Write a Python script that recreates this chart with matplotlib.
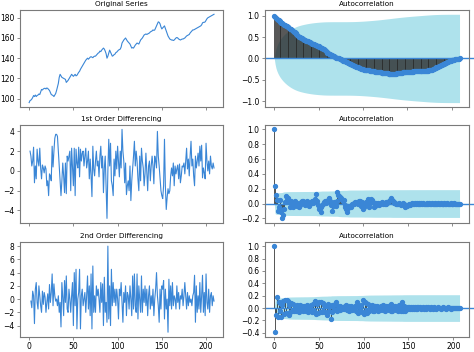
import numpy as np
import matplotlib
matplotlib.use("Agg")
import matplotlib.pyplot as plt

# original series, x = 0..209
orig = [
    96.0, 98.0, 98.5, 99.5, 101.0, 103.0, 102.0, 103.5, 102.0, 103.0,
    103.5, 104.5, 104.0, 106.5, 109.0, 108.5, 109.5, 110.0, 110.2, 109.5,
    110.5, 110.0, 109.0, 108.0, 106.0, 104.0, 103.5, 103.0, 102.0, 103.5,
    105.0, 108.0, 111.5, 115.0, 121.0, 124.0, 122.5, 121.0, 120.5, 120.0,
    119.5, 119.0, 116.0, 117.0, 118.0, 119.5, 121.0, 122.5, 124.0, 123.0,
    122.0, 123.0, 124.0, 122.5, 123.0, 124.5, 126.0, 127.0, 129.0, 130.5,
    132.0, 133.5, 135.0, 136.5, 138.0, 139.0, 140.0, 139.0, 140.0, 141.0,
    141.5, 141.0, 140.5, 141.5, 142.0, 142.0, 143.0, 144.0, 145.0, 145.5,
    147.0, 146.5, 148.0, 149.0, 150.0, 149.0, 147.0, 144.5, 140.0, 142.0,
    145.0, 148.0, 146.0, 144.0, 142.0, 142.5, 143.5, 144.0, 145.5, 146.0,
    147.0, 148.0, 148.5, 149.0, 151.0, 155.0, 156.5, 158.0, 159.0, 160.0,
    158.5, 157.0, 156.0, 155.0, 154.0, 152.0, 150.0, 150.5, 150.0, 151.5,
    153.0, 154.0, 155.0, 154.5, 154.0, 156.0, 158.0, 159.0, 160.0, 161.5,
    163.0, 163.5, 164.0, 163.5, 164.0, 164.5, 165.0, 166.0, 166.5, 167.0,
    168.0, 167.5, 168.0, 170.0, 172.0, 174.0, 176.0, 175.5, 174.0, 171.0,
    169.0, 170.0, 171.0, 172.0, 169.5, 167.0, 164.5, 162.0, 160.5, 159.0,
    158.5, 158.0, 158.0, 157.5, 158.0, 159.0, 160.0, 160.5, 160.0, 159.0,
    158.5, 158.0, 158.5, 159.0, 159.0, 159.5, 160.0, 161.0, 162.0, 162.5,
    163.0, 163.5, 165.0, 166.0, 167.0, 168.0, 168.0, 168.5, 169.0, 169.5,
    170.0, 170.5, 171.0, 171.5, 172.0, 173.0, 175.0, 175.5, 175.5, 176.0,
    177.5, 179.0, 180.0, 180.5, 181.0, 181.5, 182.0, 182.5, 183.0, 183.5,
]

# 1st order differencing, x = 1..209
diff1 = [
    2.0, 1.5, 0.5, 1.0, 2.4, -1.2, 0.5, -0.8, 2.2, 1.0,
    0.5, 2.3, 0.3, -0.8, 0.6, 0.3, -0.2, 0.5, 0.2, -1.5,
    -1.0, -2.5, -0.3, -0.5, -1.0, 2.5, 0.4, 2.0, 3.3, 3.7,
    3.7, 3.5, 2.0, 0.5, -1.0, -2.5, -1.0, 0.8, -0.5, -2.2,
    0.8, -2.3, 1.5, 1.0, 1.5, 2.0, -2.0, 2.3, 0.5, -1.5,
    2.3, -2.5, 2.2, 0.8, 0.3, 2.4, -0.6, 2.2, 1.0, 1.8,
    2.0, 0.5, 1.5, 2.3, 0.3, 1.0, 2.0, -0.8, 1.2, -0.5,
    -2.6, 2.5, 0.2, -0.5, 1.0, 2.0, 0.5, 1.0, -0.6, 1.5,
    2.5, 0.3, 1.5, -2.2, 0.3, 1.5, -1.5, -4.8, 0.0, 3.2,
    0.5, 2.8, -1.0, -1.5, -2.5, 1.2, -0.5, 2.0, 0.2, 2.5,
    1.0, -0.6, 2.0, 0.3, 4.2, 2.0, 1.0, -1.2, 0.8, -2.4,
    -1.5, -1.0, -2.0, 0.5, -3.0, -1.0, 0.2, 1.5, 3.0, 0.5,
    2.0, 1.0, -0.8, -2.0, 1.5, -1.0, 2.3, 1.0, 0.3, -1.5,
    -0.3, 1.8, 0.0, -2.0, 0.5, 1.0, -1.0, 0.5, 1.5, 0.5,
    -1.3, 1.5, 1.0, 0.3, 4.0, 1.5, 0.5, -0.8, -2.0, -2.5,
    -2.8, -1.5, 3.2, -1.5, -3.9, -2.7, -1.8, -2.3, -2.0, -0.5,
    0.3, -0.5, 0.8, -1.5, 0.5, -0.3, 0.2, 0.6, -0.8, 0.7,
    -1.2, -0.5, 0.5, 0.4, 0.8, -0.3, 1.0, 2.3, 0.2, 1.2,
    -0.5, 1.5, 3.0, 0.5, 1.2, -0.5, -1.5, 1.5, 0.3, 1.0,
    1.8, 0.5, 2.5, 1.0, 2.6, -0.7, 0.3, -0.2, -0.8, 2.8,
    1.0, 0.0, 1.0, -0.3, 1.5, 0.5, 0.2, 0.8, 0.3,
]

# 2nd order differencing, x = 2..209
diff2 = [
    -0.3, -1.3, 1.2, 0.5, -3.7, 1.5, 2.5, -0.5, -1.5, 2.0,
    0.5, -1.0, -2.0, 1.2, -0.8, 1.0, 0.3, -2.0, -0.5, 0.8,
    -1.5, 2.2, -0.5, 1.0, 3.8, -1.0, 2.3, 0.5, -0.3, 0.0,
    -1.0, 0.5, -2.0, -0.5, -4.2, 2.5, 0.3, -2.5, 2.8, -0.5,
    3.5, -1.5, -2.0, 1.5, 0.0, -2.0, 0.5, 2.5, -4.0, 4.0,
    -1.0, 4.5, -4.5, 0.0, 1.0, 4.5, -4.5, 0.5, 1.5, -1.0,
    0.0, 1.0, -2.0, 0.5, 3.5, -1.5, 2.0, -2.5, 3.8, -4.5,
    5.0, -2.0, 0.5, -2.0, 2.0, 0.5, 1.5, 0.0, -2.0, 2.5,
    -0.5, 2.3, -4.0, 3.3, -2.0, -0.5, -3.5, 8.0, -3.0, 2.0,
    -4.0, 4.5, -1.0, 2.5, -0.5, 1.5, -1.0, 1.5, 0.0, -3.0,
    1.5, 0.5, 2.5, -0.5, -3.5, 1.0, -0.5, 2.0, -2.5, 1.0,
    0.5, -1.5, 2.0, 0.0, -2.5, 3.5, -1.5, 3.8, -1.0, -2.0,
    3.8, -3.0, 2.0, 0.0, -2.0, 3.5, -2.0, 1.5, -0.5, 2.0,
    -1.0, 1.5, -2.5, 0.5, 2.0, -1.5, 0.5, -1.0, 1.5, -2.5,
    0.0, 1.5, 4.0, 0.5, -1.0, -3.5, 1.5, -1.5, 2.0, 1.5,
    2.8, -3.0, 1.5, -1.5, 0.0, -5.0, 3.0, -1.0, 2.0, -1.5,
    2.5, -1.0, 0.5, 0.0, -1.5, 2.0, -0.5, 1.0, -1.5, 0.5,
    0.0, 1.5, -1.0, 0.5, 2.5, 0.5, -1.5, 1.0, -1.0, 0.5,
    -0.5, 0.0, -1.0, 0.5, 1.0, 3.6, -3.5, 2.0, -2.0, 0.5,
    -1.5, 2.5, -2.0, 0.5, 3.6, -2.0, 1.0, -2.5, 3.8, -0.5,
    -1.5, 1.5, -2.0, 0.5, 1.0, -1.0, 0.5, -0.3,
]

# autocorrelation of the original series, lags 0..209
acf_orig = [
    1.00, 0.97, 0.95, 0.93, 0.91, 0.89, 0.87, 0.85, 0.84, 0.82,
    0.81, 0.79, 0.78, 0.77, 0.75, 0.74, 0.73, 0.71, 0.70, 0.68,
    0.67, 0.65, 0.63, 0.61, 0.59, 0.57, 0.55, 0.53, 0.51, 0.50,
    0.48, 0.47, 0.46, 0.45, 0.44, 0.43, 0.42, 0.41, 0.40, 0.39,
    0.38, 0.37, 0.36, 0.35, 0.34, 0.33, 0.32, 0.31, 0.30, 0.29,
    0.29, 0.27, 0.26, 0.25, 0.24, 0.22, 0.21, 0.19, 0.17, 0.15,
    0.13, 0.12, 0.11, 0.10, 0.08, 0.07, 0.06, 0.05, 0.04, 0.03,
    0.02, 0.01, 0.01, 0.00, -0.01, -0.02, -0.03, -0.04, -0.05, -0.06,
    -0.07, -0.08, -0.09, -0.10, -0.11, -0.12, -0.13, -0.14, -0.15, -0.16,
    -0.17, -0.18, -0.19, -0.20, -0.21, -0.21, -0.22, -0.23, -0.24, -0.25,
    -0.25, -0.26, -0.26, -0.27, -0.27, -0.28, -0.28, -0.28, -0.29, -0.29,
    -0.29, -0.30, -0.30, -0.30, -0.31, -0.31, -0.32, -0.32, -0.33, -0.33,
    -0.33, -0.34, -0.34, -0.34, -0.35, -0.35, -0.35, -0.35, -0.35, -0.36,
    -0.36, -0.36, -0.36, -0.36, -0.36, -0.36, -0.36, -0.36, -0.35, -0.35,
    -0.35, -0.35, -0.34, -0.34, -0.34, -0.33, -0.33, -0.33, -0.32, -0.32,
    -0.32, -0.32, -0.31, -0.31, -0.31, -0.31, -0.31, -0.30, -0.30, -0.30,
    -0.30, -0.30, -0.30, -0.30, -0.30, -0.30, -0.30, -0.30, -0.30, -0.30,
    -0.30, -0.29, -0.29, -0.29, -0.28, -0.28, -0.27, -0.27, -0.26, -0.25,
    -0.24, -0.23, -0.22, -0.21, -0.20, -0.19, -0.18, -0.17, -0.16, -0.15,
    -0.14, -0.13, -0.12, -0.11, -0.10, -0.09, -0.08, -0.07, -0.06, -0.05,
    -0.04, -0.04, -0.03, -0.03, -0.02, -0.02, -0.01, -0.01, -0.01, 0.00,
]

# autocorrelation of the 1st differences, lags 0..208
acf_d1 = [
    1.00, 0.24, 0.12, 0.05, -0.10, -0.05, 0.05, -0.08, -0.12, -0.20,
    -0.15, -0.08, 0.02, 0.10, 0.08, 0.04, 0.07, 0.02, -0.05, 0.03,
    0.01, -0.04, 0.02, 0.03, 0.00, -0.03, 0.01, -0.01, -0.05, -0.02,
    0.02, 0.04, 0.03, 0.01, 0.00, -0.02, 0.02, 0.03, 0.01, -0.03,
    0.00, 0.02, 0.03, 0.04, 0.01, 0.03, 0.06, 0.13, 0.03, -0.02,
    -0.08, -0.06, -0.12, -0.05, -0.02, 0.00, 0.02, 0.03, 0.01, 0.04,
    0.05, 0.08, 0.06, 0.03, -0.02, -0.10, -0.03, 0.02, -0.01, -0.03,
    0.04, 0.15, 0.12, 0.10, 0.09, 0.08, 0.05, 0.04, 0.05, -0.02,
    -0.05, -0.08, -0.12, -0.06, -0.05, -0.03, -0.04, -0.01, 0.00, 0.01,
    -0.01, 0.02, 0.01, 0.02, 0.00, 0.04, 0.03, -0.03, -0.02, 0.02,
    -0.07, -0.04, 0.01, 0.02, -0.01, 0.06, -0.04, 0.01, 0.03, 0.06,
    0.05, 0.02, -0.05, -0.03, 0.01, 0.00, -0.01, 0.01, -0.02, 0.00,
    0.01, 0.02, 0.00, 0.01, -0.01, 0.02, 0.00, 0.01, 0.02, 0.03,
    0.05, 0.08, 0.05, 0.03, 0.01, 0.02, 0.01, 0.00, -0.01, 0.00,
    0.01, -0.01, -0.02, -0.01, 0.00, 0.01, -0.01, -0.04, -0.02, -0.03,
    -0.02, -0.01, -0.02, -0.01, 0.00, 0.01, 0.00, -0.01, 0.01, 0.00,
    0.01, 0.00, 0.01, -0.01, 0.00, 0.01, 0.00, 0.01, 0.00, -0.01,
    0.00, 0.01, 0.00, 0.00, 0.01, -0.01, 0.00, 0.01, 0.00, 0.00,
    0.01, 0.00, -0.01, 0.00, 0.01, 0.00, 0.00, 0.01, 0.00, 0.00,
    0.00, 0.01, 0.00, 0.00, 0.01, 0.00, 0.00, 0.00, 0.01, 0.00,
    0.00, 0.00, 0.01, 0.00, 0.00, 0.00, 0.00, 0.00, 0.00,
]

# autocorrelation of the 2nd differences, lags 0..207
acf_d2 = [
    1.00, -0.39, -0.12, 0.18, -0.15, 0.10, -0.05, 0.08, -0.14, 0.05,
    0.12, -0.10, 0.13, -0.08, 0.13, 0.12, -0.12, 0.05, -0.06, 0.08,
    -0.04, 0.06, -0.05, 0.03, -0.04, 0.05, -0.03, 0.04, -0.06, 0.05,
    -0.02, 0.03, -0.05, 0.04, -0.03, 0.02, -0.04, 0.05, -0.06, 0.03,
    -0.02, 0.05, -0.07, 0.06, -0.04, 0.12, 0.10, -0.10, 0.06, -0.08,
    0.10, -0.07, 0.10, -0.06, 0.08, -0.04, 0.05, -0.06, 0.04, -0.12,
    0.07, -0.05, 0.03, -0.17, 0.05, -0.06, 0.04, -0.03, 0.06, 0.10,
    -0.05, 0.04, -0.02, 0.03, -0.03, 0.02, -0.01, 0.02, -0.02, 0.03,
    0.05, -0.03, 0.02, -0.04, 0.03, -0.02, 0.04, -0.03, 0.02, -0.02,
    0.03, -0.04, 0.05, 0.10, -0.08, 0.04, -0.03, 0.05, -0.06, 0.13,
    -0.10, 0.10, -0.05, 0.08, -0.08, 0.06, -0.05, 0.04, -0.03, 0.05,
    -0.04, 0.03, -0.05, 0.04, -0.02, 0.03, -0.05, 0.02, -0.03, 0.04,
    -0.02, 0.05, -0.03, 0.02, -0.04, 0.03, -0.02, 0.04, -0.03, 0.02,
    -0.05, 0.07, -0.04, 0.03, -0.02, 0.04, -0.03, 0.02, -0.04, 0.05,
    -0.02, 0.03, -0.05, 0.10, -0.05, 0.03, -0.04, 0.02, -0.02, 0.01,
    -0.02, 0.02, -0.01, 0.01, -0.02, 0.01, -0.01, 0.02, -0.01, 0.01,
    -0.01, 0.01, 0.00, 0.01, -0.01, 0.00, 0.01, -0.01, 0.00, 0.01,
    -0.01, 0.00, 0.01, 0.00, -0.01, 0.01, 0.00, -0.01, 0.00, 0.01,
    0.00, -0.01, 0.00, 0.01, 0.00, 0.00, -0.01, 0.00, 0.01, 0.00,
    0.00, 0.00, -0.01, 0.00, 0.01, 0.00, 0.00, 0.00, -0.01, 0.00,
    0.00, 0.00, 0.00, 0.00, 0.00, 0.00, 0.00, 0.00,
]

left_titles = ["Original Series", "1st Order Differencing", "2nd Order Differencing"]
line_col = "#3a86d6"
band_col = "#aee2ec"
spine_col = "#7a7a7a"
tick_fs = 5.5
title_fs = 5.2


def style(ax):
    for s in ax.spines.values():
        s.set_color(spine_col)
        s.set_linewidth(0.8)
    ax.tick_params(length=2.5, width=0.6, color=spine_col, labelsize=tick_fs, pad=1.5)


def plot_acf(ax, acf, n_obs):
    acf = np.asarray(acf)
    lags = np.arange(len(acf))
    # bartlett band, centred on zero
    var = np.ones(len(acf)) / n_obs
    var[0] = 0
    var[2:] *= 1 + 2 * np.cumsum(acf[1:-1] ** 2)
    band = 1.96 * np.sqrt(var)
    ax.vlines(lags, 0, acf, colors="#262626", linewidth=0.55)
    ax.axhline(0, xmin=0, xmax=1.03, color=line_col, linewidth=1.0, clip_on=False)
    ax.plot(lags, acf, "o", color=line_col, markersize=2.8)
    ax.fill_between(lags, -band, band, color=band_col, linewidth=0)
    ax.margins(0.05)
    ax.set_title("Autocorrelation", fontsize=title_fs, pad=2.5)


fig = plt.figure(figsize=(4.74, 3.52), dpi=100)
rows = [(0.696, 0.276), (0.367, 0.278), (0.044, 0.269)]
left_axes = [fig.add_axes([0.042, b, 0.429, h]) for b, h in rows]
right_axes = [fig.add_axes([0.559, b, 0.430, h]) for b, h in rows]

series = [orig, diff1, diff2]
starts = [0, 1, 2]
for ax, ys, s0, t in zip(left_axes, series, starts, left_titles):
    xs = np.arange(s0, s0 + len(ys))
    ax.plot(xs, ys, color=line_col, linewidth=0.8)
    ax.set_xlim(-10.45, 219.45)
    ax.set_title(t, fontsize=title_fs, pad=2.5)
    ax.set_xticks([0, 50, 100, 150, 200])
    style(ax)

left_axes[0].set_yticks([100, 120, 140, 160, 180])
left_axes[1].set_yticks([-4, -2, 0, 2, 4])
left_axes[2].set_yticks([-4, -2, 0, 2, 4, 6, 8])

acfs = [acf_orig, acf_d1, acf_d2]
for ax, a, ys in zip(right_axes, acfs, series):
    plot_acf(ax, a, len(ys))
    ax.set_xticks([0, 50, 100, 150, 200])
    style(ax)

right_axes[0].set_yticks([-1.0, -0.5, 0.0, 0.5, 1.0])
right_axes[1].set_yticks([-0.2, 0.0, 0.2, 0.4, 0.6, 0.8, 1.0])
right_axes[2].set_yticks([-0.4, -0.2, 0.0, 0.2, 0.4, 0.6, 0.8, 1.0])

for ax in left_axes[:2] + right_axes[:2]:
    ax.tick_params(labelbottom=False)

fig.savefig("out.png", dpi=100)
